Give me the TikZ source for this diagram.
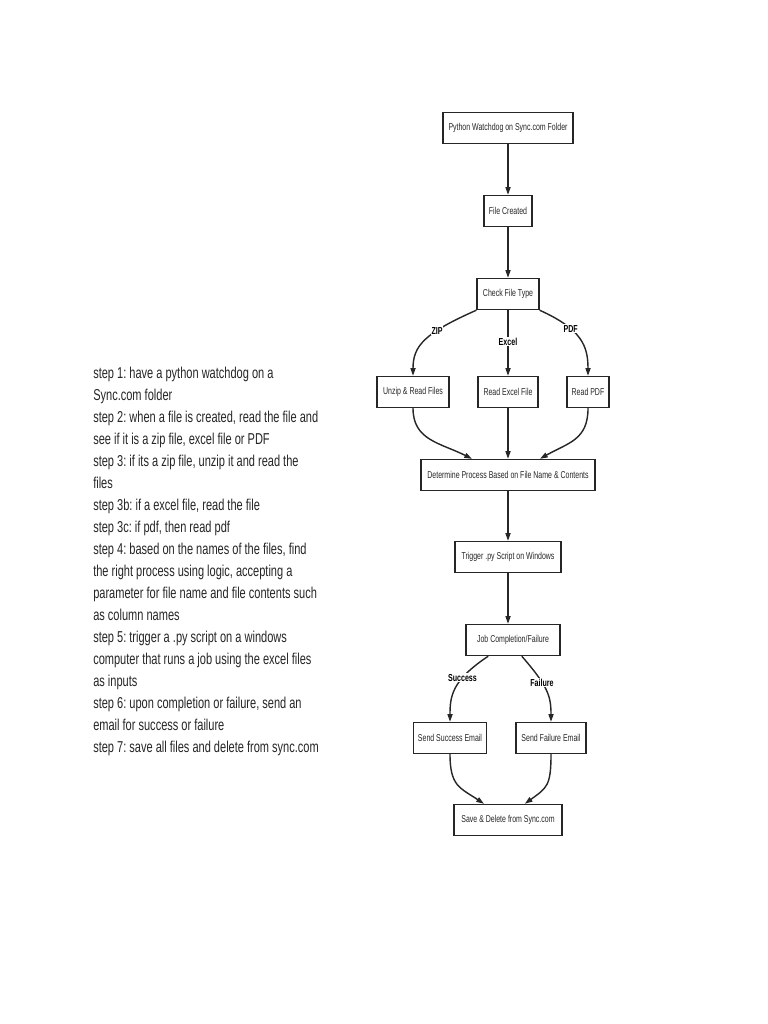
\documentclass[tikz,border=0pt]{standalone}
\usepackage{fontspec}
\setmainfont{Liberation Sans}
\newfontfamily\narrowfont[FakeStretch=0.70]{Liberation Sans}
\usepackage{tikz}
\usetikzlibrary{arrows.meta}
\definecolor{ink}{HTML}{262626}
\frenchspacing
\tikzset{
  flowbox/.style={draw=ink, line width=0.85pt, minimum height=0.78cm, inner sep=1pt,
    font=\narrowfont\fontsize{7.1}{7.5}\selectfont, text=ink},
  arr/.style={draw=ink, line width=1pt, -{Triangle[length=5.5pt,width=3.6pt]}},
  lbl/.style={fill=white, inner sep=0.6pt, font=\narrowfont\fontsize{7.2}{7.5}\selectfont\bfseries, text=black}
}
\begin{document}
\begin{tikzpicture}[x=0.025cm, y=0.025cm]
\useasboundingbox[fill=white] (0,0) rectangle (768,-1024);
\node[below right, align=left, inner sep=0pt, text=ink,
  font=\narrowfont\fontsize{11.2}{15.65}\selectfont] (steps) at (93,-367) {%
step 1: have a python watchdog on a\\
Sync.com folder\\
step 2: when a file is created, read the file and\\
see if it is a zip file, excel file or PDF\\
step 3: if its a zip file, unzip it and read the\\
files\\
step 3b: if a excel file, read the file\\
step 3c: if pdf, then read pdf\\
step 4: based on the names of the files, find\\
the right process using logic, accepting a\\
parameter for file name and file contents such\\
as column names\\
step 5: trigger a .py script on a windows\\
computer that runs a job using the excel files\\
as inputs\\
step 6: upon completion or failure, send an\\
email for success or failure\\
step 7: save all files and delete from sync.com};

\node[flowbox, minimum width=3.25cm] (watch) at (508,-128) {Python Watchdog on Sync.com Folder};
\node[flowbox, minimum width=1.2cm] (created) at (508,-211) {File Created};
\node[flowbox, minimum width=1.55cm] (check) at (508,-294) {Check File Type};
\node[flowbox, minimum width=1.8cm] (unzip) at (413,-392) {Unzip \& Read Files};
\node[flowbox, minimum width=1.5cm] (excel) at (508,-392) {Read Excel File};
\node[flowbox, minimum width=1.05cm] (pdf) at (588,-392) {Read PDF};
\node[flowbox, minimum width=4.35cm] (determine) at (508,-475) {Determine Process Based on File Name \& Contents};
\node[flowbox, minimum width=2.65cm] (trigger) at (508,-557) {Trigger .py Script on Windows};
\node[flowbox, minimum width=2.35cm] (job) at (513,-640) {Job Completion/Failure};
\node[flowbox, minimum width=1.83cm] (success) at (450,-738) {Send Success Email};
\node[flowbox, minimum width=1.75cm] (failure) at (551,-738) {Send Failure Email};
\node[flowbox, minimum width=2.7cm] (save) at (508,-820) {Save \& Delete from Sync.com};

\draw[arr] (watch) -- (created);
\draw[arr] (created) -- (check);
\draw[arr] (check.south west) .. controls +(-52,-23) and +(0,30) .. node[lbl, pos=0.33] {ZIP} (unzip.north);
\draw[arr] (check) -- node[lbl, pos=0.48] {Excel} (excel);
\draw[arr] (check.south east) .. controls +(42,-19) and +(0,30) .. node[lbl, pos=0.33] {PDF} (pdf.north);
\draw[arr] (unzip.south) .. controls +(0,-32) and +(-32,16) .. ([xshift=-0.9cm]determine.north);
\draw[arr] (excel) -- (determine);
\draw[arr] (pdf.south) .. controls +(0,-32) and +(28,16) .. ([xshift=0.8cm]determine.north);
\draw[arr] (determine) -- (trigger);
\draw[arr] (trigger.south) -- (trigger.south |- job.north);
\draw[arr] ([xshift=-0.62cm]job.south) .. controls +(-36,-24) and +(0,26) .. node[lbl, pos=0.33] {Success} (success.north);
\draw[arr] ([xshift=0.22cm]job.south) .. controls +(26,-30) and +(0,26) .. node[lbl, pos=0.36] {Failure} (failure.north);
\draw[arr] (success.south) .. controls +(0,-32) and +(-24,16) .. ([xshift=-0.6cm]save.north);
\draw[arr] (failure.south) .. controls +(0,-32) and +(22,16) .. ([xshift=0.42cm]save.north);
\end{tikzpicture}
\end{document}
